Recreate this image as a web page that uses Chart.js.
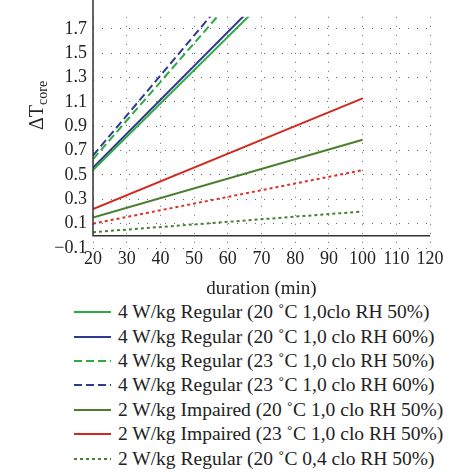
<!DOCTYPE html>
<html>
<head>
<meta charset="utf-8">
<script src="https://cdn.jsdelivr.net/npm/chart.js@4"></script>
<style>
  body { margin: 0; background: #fff; width: 474px; height: 474px; overflow: hidden; font-family: 'Liberation Serif', serif; }
  #legend { position: absolute; left: 74px; top: 300px; }
  .row { height: 24.4px; display: flex; align-items: center; font-size: 19.5px; color: #222; white-space: nowrap; }
  .row svg { margin-right: 7px; }
</style>
</head>
<body>
<canvas id="c" width="474" height="300"></canvas>
<div id="legend"></div>
<script>
// x positions (min)
const durations = [20, 100];
const yTicks = [-0.1, 0.1, 0.3, 0.5, 0.7, 0.9, 1.1, 1.3, 1.5, 1.7];
const xTicks = [20, 30, 40, 50, 60, 70, 80, 90, 100, 110, 120];

// delta T core at 20 and 100 min
const reg4_20_50 = [0.54, 2.73];
const reg4_20_60 = [0.56, 2.79];
const reg4_23_50 = [0.63, 3.17];
const reg4_23_60 = [0.66, 3.29];
const imp2_20_50 = [0.15, 0.79];
const imp2_23_50 = [0.22, 1.13];
const imp2_23_dot = [0.10, 0.54];
const reg2_20_04 = [0.03, 0.20];

const series = [
  { label: '4 W/kg Regular (20 \u02DAC 1,0clo RH 50%)', data: reg4_20_50, color: '#2eaa45', dash: [] },
  { label: '4 W/kg Regular (20 \u02DAC 1,0 clo RH 60%)', data: reg4_20_60, color: '#313a8f', dash: [] },
  { label: '4 W/kg Regular (23 \u02DAC 1,0 clo RH 50%)', data: reg4_23_50, color: '#2eaa45', dash: [8, 4] },
  { label: '4 W/kg Regular (23 \u02DAC 1,0 clo RH 60%)', data: reg4_23_60, color: '#313a8f', dash: [8, 4] },
  { label: '2 W/kg Impaired (20 \u02DAC 1,0 clo RH 50%)', data: imp2_20_50, color: '#4b7f2f', dash: [] },
  { label: '2 W/kg Impaired (23 \u02DAC 1,0 clo RH 50%)', data: imp2_23_50, color: '#d3281f', dash: [] },
  { label: '2 W/kg Regular (20 \u02DAC 0,4 clo RH 50%)', data: reg2_20_04, color: '#4b7f2f', dash: [3, 3] },
  { label: null, data: imp2_23_dot, color: '#e0302a', dash: [3, 3] }
];

const serif = "'Liberation Serif', serif";

const yTitle = {
  id: 'yTitle',
  afterDraw(chart) {
    const ctx = chart.ctx;
    ctx.save();
    ctx.translate(38, 100);
    ctx.rotate(-Math.PI / 2);
    ctx.fillStyle = '#222';
    ctx.font = "20px " + serif;
    ctx.textBaseline = 'middle';
    ctx.fillText('\u0394T', -30, 0);
    const w = ctx.measureText('\u0394T').width;
    ctx.font = "14px " + serif;
    ctx.fillText('core', -30 + w, 5);
    ctx.restore();
    // axis lines at x=20, y=0
    const xs = chart.scales.x, ys = chart.scales.y;
    ctx.save();
    ctx.strokeStyle = '#333';
    ctx.lineWidth = 1.5;
    ctx.beginPath();
    ctx.moveTo(xs.left, 0);
    ctx.lineTo(xs.left, ys.getPixelForValue(0));
    ctx.lineTo(xs.right, ys.getPixelForValue(0));
    ctx.stroke();
    ctx.restore();
  }
};

new Chart(document.getElementById('c'), {
  type: 'line',
  data: {
    datasets: series.map(s => ({
      data: durations.map((d, i) => ({ x: d, y: s.data[i] })),
      borderColor: s.color,
      borderDash: s.dash,
      borderWidth: 2,
      pointRadius: 0,
      fill: false
    }))
  },
  options: {
    responsive: false,
    animation: false,
    layout: { padding: { top: -12, right: 44, left: 0, bottom: 0 } },
    plugins: { legend: { display: false }, tooltip: { enabled: false } },
    scales: {
      x: {
        type: 'linear', min: 20, max: 120,
        afterBuildTicks: s => { s.ticks = xTicks.map(v => ({ value: v })); },
        afterFit: s => { s.height = 52; },
        grid: { color: '#666', lineWidth: 1, drawTicks: false },
        border: { display: false, dash: [1, 8] },
        ticks: { color: '#222', padding: 0, font: { family: serif, size: 18 }, maxRotation: 0 },
        title: { display: true, text: 'duration (min)', color: '#222', padding: 0, font: { family: serif, size: 19 } }
      },
      y: {
        type: 'linear', min: -0.1, max: 1.8,
        afterBuildTicks: s => { s.ticks = yTicks.map(v => ({ value: v })); },
        afterFit: s => { s.width = 93; },
        grid: { color: '#666', lineWidth: 1, drawTicks: false },
        border: { display: false, dash: [1, 8] },
        ticks: { color: '#222', padding: 6, font: { family: serif, size: 18 },
          callback: v => (v < 0 ? '\u22120.1' : v.toFixed(1)) }
      }
    }
  },
  plugins: [yTitle]
});

const legend = document.getElementById('legend');
series.filter(s => s.label).forEach(s => {
  const row = document.createElement('div');
  row.className = 'row';
  row.innerHTML = '<svg width="37" height="6"><line x1="0" y1="3" x2="37" y2="3" stroke="' + s.color +
    '" stroke-width="2.2" stroke-dasharray="' + (s.dash.length ? s.dash.join(' ') : 'none') + '"/></svg>' +
    '<span></span>';
  row.querySelector('span').textContent = s.label;
  legend.appendChild(row);
});
</script>
</body>
</html>
